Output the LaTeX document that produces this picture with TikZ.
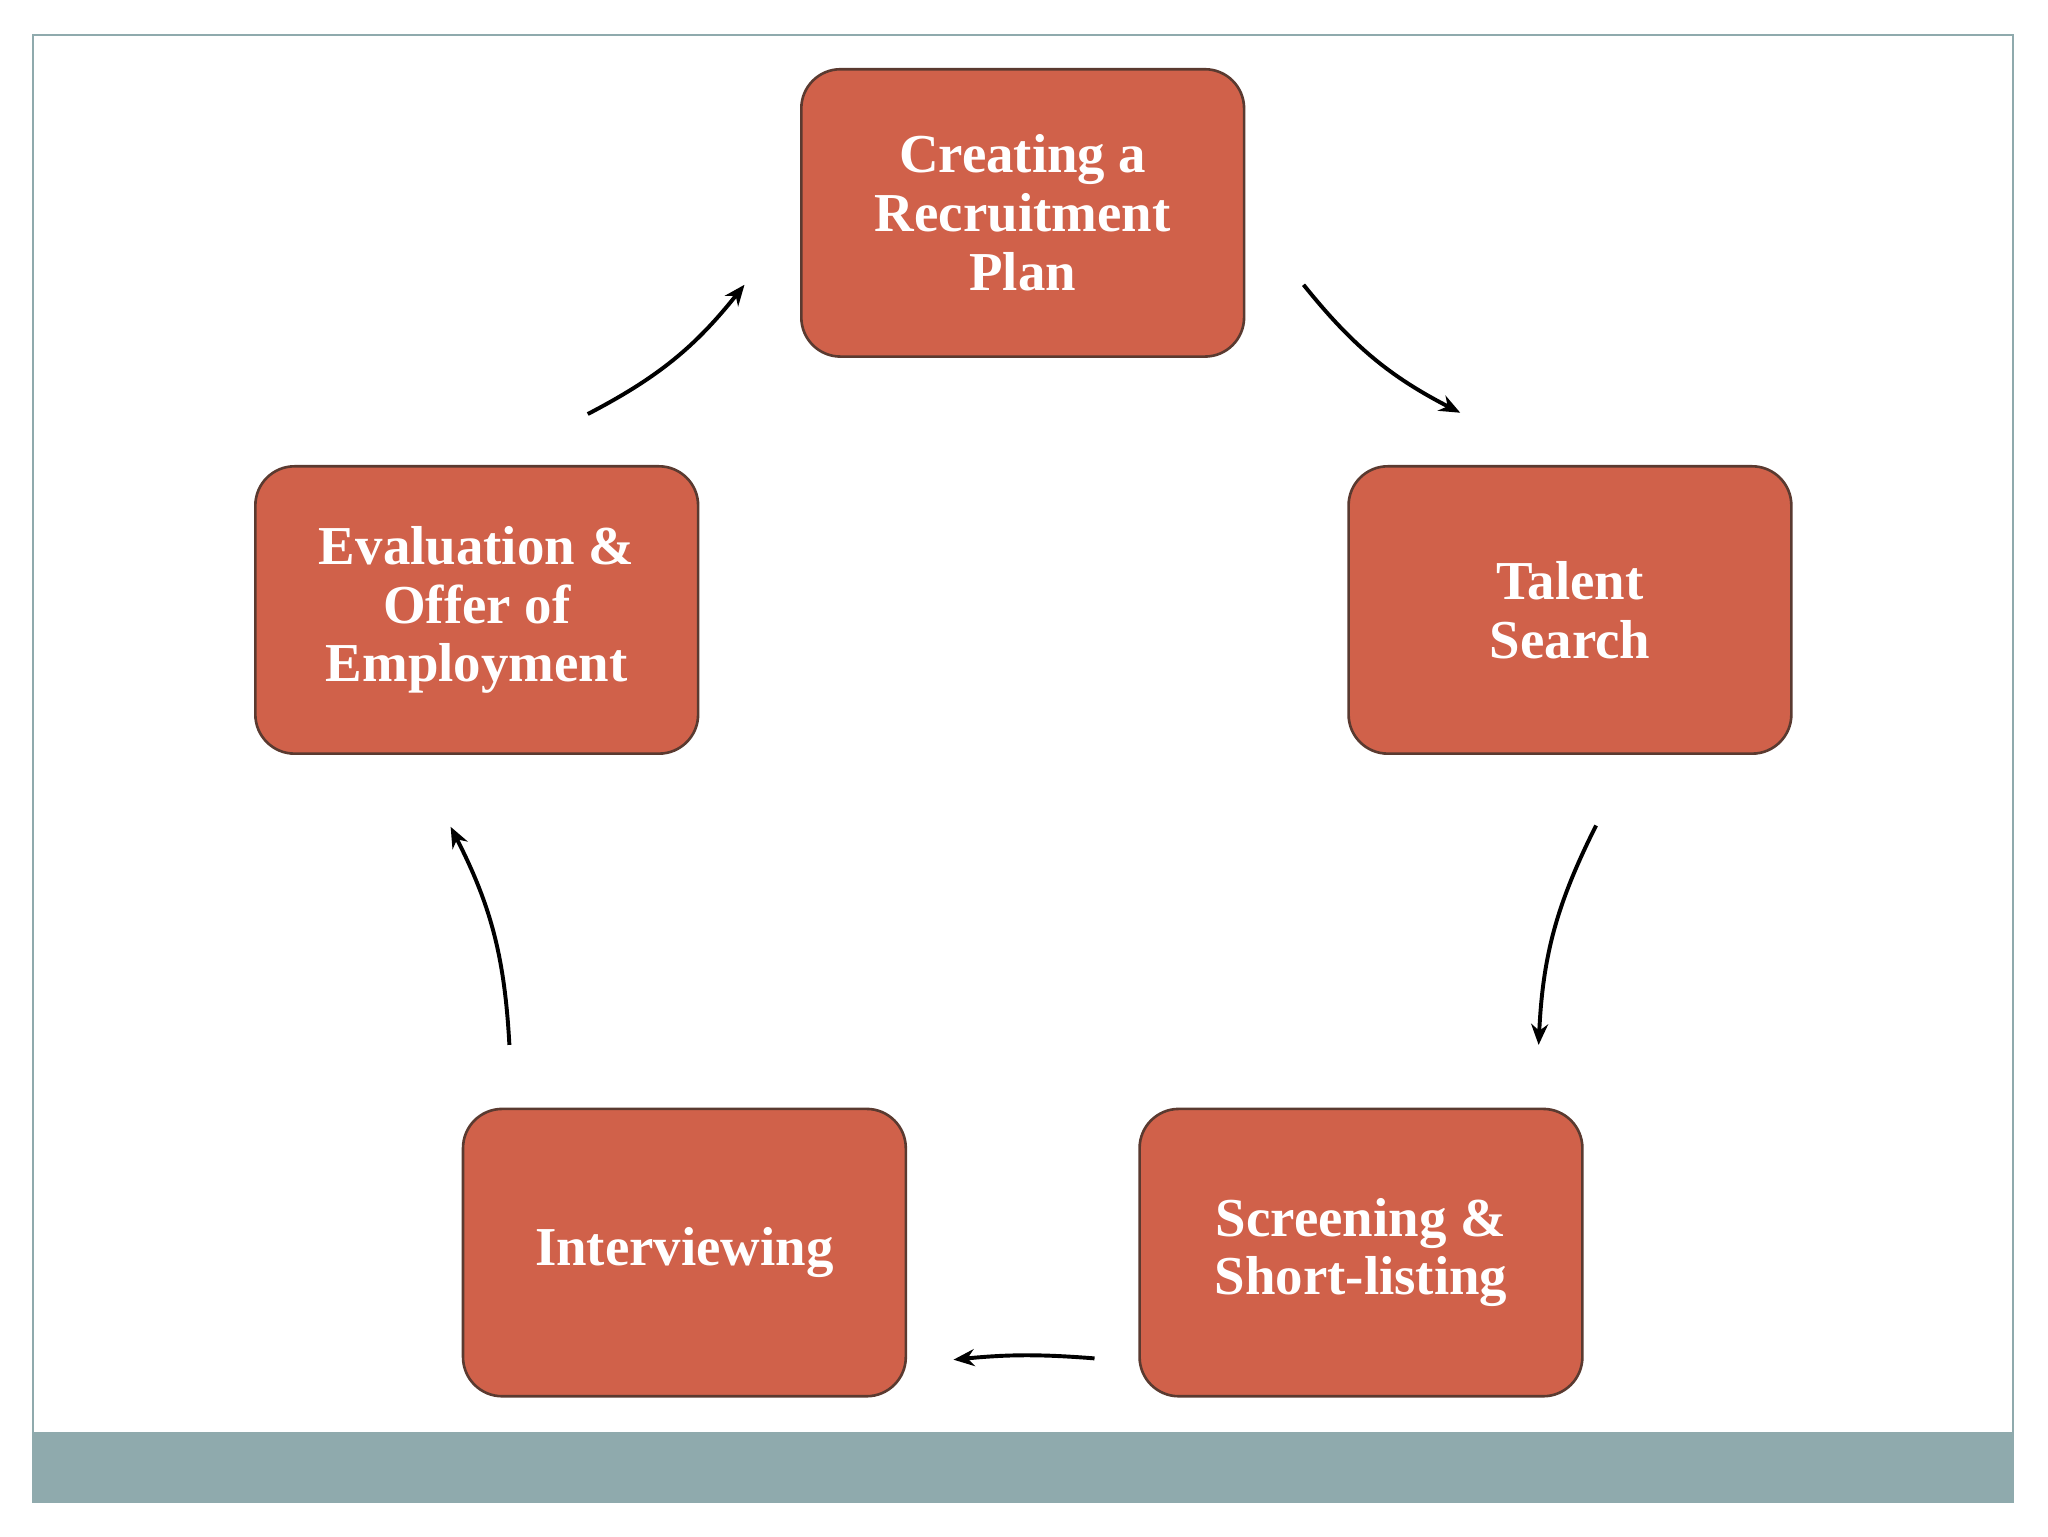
\documentclass[tikz,border=0pt]{standalone}
\usepackage{fontspec}
\setmainfont{Liberation Serif}
\usetikzlibrary{arrows.meta}
\definecolor{boxfill}{HTML}{D0614A}
\definecolor{boxedge}{HTML}{5A3A30}
\definecolor{band}{HTML}{8FAAAD}
\begin{document}
\begin{tikzpicture}[x=1pt,y=-1pt,
  stage/.style={draw=boxedge,line width=2pt,fill=boxfill,rounded corners=30pt,
    minimum width=339pt,minimum height=220pt,text=white,align=center,
    font=\bfseries\fontsize{42}{45}\selectfont},
  flow/.style={line width=3pt,-{Stealth[length=16pt,width=13pt]}}]
\useasboundingbox (0,0) rectangle (1568,1176);
\fill[white] (0,0) rectangle (1568,1176);
\draw[band,line width=1.5pt] (25,27) rectangle (1541,1150);
\fill[band] (25,1096) rectangle (1541,1150);
\node[stage] (a) at (783,163) {Creating a\\Recruitment\\Plan};
\node[stage] (b) at (1202,467) {Talent\\Search};
\node[stage] (c) at (1042,959) {Screening \&\\Short-listing};
\node[stage] (d) at (524,959) {Interviewing};
\node[stage] (e) at (365,467) {Evaluation \&\\Offer of\\Employment};
\coordinate (a1) at (998,218); \coordinate (a2) at (1118,316);
\coordinate (b1) at (1222,632); \coordinate (b2) at (1178,800);
\coordinate (c1) at (838,1040); \coordinate (c2) at (730,1041);
\coordinate (d1) at (390,800); \coordinate (d2) at (345,633);
\coordinate (e1) at (450,317); \coordinate (e2) at (570,218);
\draw[flow] (a1) to[bend right=12] (a2);
\draw[flow] (b1) to[bend right=12] (b2);
\draw[flow] (c1) to[bend right=5] (c2);
\draw[flow] (d1) to[bend right=12] (d2);
\draw[flow] (e1) to[bend right=12] (e2);
\end{tikzpicture}
\end{document}
